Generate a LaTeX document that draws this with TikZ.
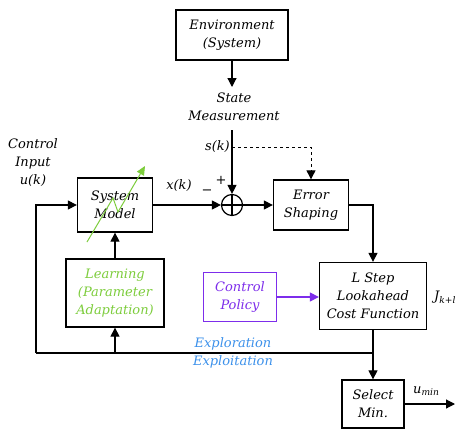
\documentclass[tikz,border=0pt]{standalone}
\usepackage{fontspec}
\setmainfont{DejaVu Serif}
\usetikzlibrary{arrows.meta}
\definecolor{lgreen}{RGB}{125,205,60}
\definecolor{cpurple}{RGB}{125,45,235}
\definecolor{cblue}{RGB}{60,145,235}
\begin{document}
\begin{tikzpicture}[x=1pt,y=-1pt,
  font=\itshape\fontsize{13}{18}\selectfont,
  box/.style={draw, line width=1.3pt, align=center, inner sep=0pt},
  conn/.style={line width=1.2pt, -{Triangle[length=9pt,width=9pt]}},
  lbl/.style={inner sep=0pt, align=center}]
\fill[white] (0,0) rectangle (474,442);
\useasboundingbox (0,0) rectangle (474,442);

\node[box, minimum width=112pt, minimum height=50pt] (env) at (232,35) {Environment\\(System)};
\node[lbl] (sm) at (234,107) {State\\Measurement};
\coordinate (smtop) at (232,87);
\draw[conn] (env.south) -- (smtop);

\node[draw, circle, line width=1.2pt, minimum size=21pt, inner sep=0pt] (sum) at (232,205) {};
\draw[line width=1.2pt] (sum.north) -- (sum.south) (sum.west) -- (sum.east);
\coordinate (vtop) at (232,130);
\draw[conn] (vtop) -- (sum.north);

\node[box, minimum width=75pt, minimum height=54pt] (sys) at (115,205) {System\\Model};
\node[box, minimum width=75pt, minimum height=50pt] (es) at (311,205) {Error\\Shaping};
\node[box, minimum width=107pt, minimum height=67pt] (ls) at (373,296) {L Step\\Lookahead\\Cost Function};
\node[box, draw=cpurple, text=cpurple, minimum width=73pt, minimum height=49pt] (cp) at (240,297) {Control\\Policy};
\node[box, text=lgreen, minimum width=98pt, minimum height=68pt] (lrn) at (115,293) {Learning\\(Parameter\\Adaptation)};
\node[box, minimum width=62pt, minimum height=48pt] (sel) at (373,404) {Select\\Min.};

% labels
\node[lbl, anchor=east] (sk) at (230,147) {\textit{s}(\textit{k})};
\coordinate (sd) at (232,147);
\draw[conn, dashed, line width=0.9pt] (sd) -| (es.north);
\node[lbl] (xk) at (179,186) {\textit{x}(\textit{k})};
\node[lbl] (plus) at (221,180) {+};
\node[lbl] (minus) at (207,192) {−};
\node[lbl] (ci) at (33,163) {Control\\Input\\\textit{u}(\textit{k})};
\node[lbl, anchor=west] (jk) at (434,297) {\textit{J}\textsubscript{\textit{k+l}}};
\node[lbl, anchor=west] (um) at (413,391) {\textit{u}\textsubscript{\textit{min}}};
\node[lbl, text=cblue] (ee) at (233,353) {Exploration\\Exploitation};

% connectors
\draw[conn] (sys.east) -- (sum.west);
\draw[conn] (sum.east) -- (es.west);
\draw[conn] (es.east) -| (ls.north);
\draw[conn, draw=cpurple, fill=cpurple] (cp.east) -- (cp.east -| ls.west);
\draw[conn] (lrn.north) -- (sys.south);
\coordinate (bl) at (36,353);
\coordinate (br) at (373,353);
\draw[conn] (bl) |- (sys.west);
\draw[line width=1.2pt] (bl) -- (br);
\draw[conn] (lrn.south |- bl) -- (lrn.south);
\draw[conn] (ls.south) -- (sel.north);
\coordinate (out) at (455,404);
\draw[conn] (sel.east) -- (out);

% green adaptation arrow
\draw[lgreen, line width=1pt, -{Triangle[length=9pt,width=8pt]}]
  (87,242) -- (113,198) -- (118,212) -- (145,166);
\end{tikzpicture}
\end{document}
